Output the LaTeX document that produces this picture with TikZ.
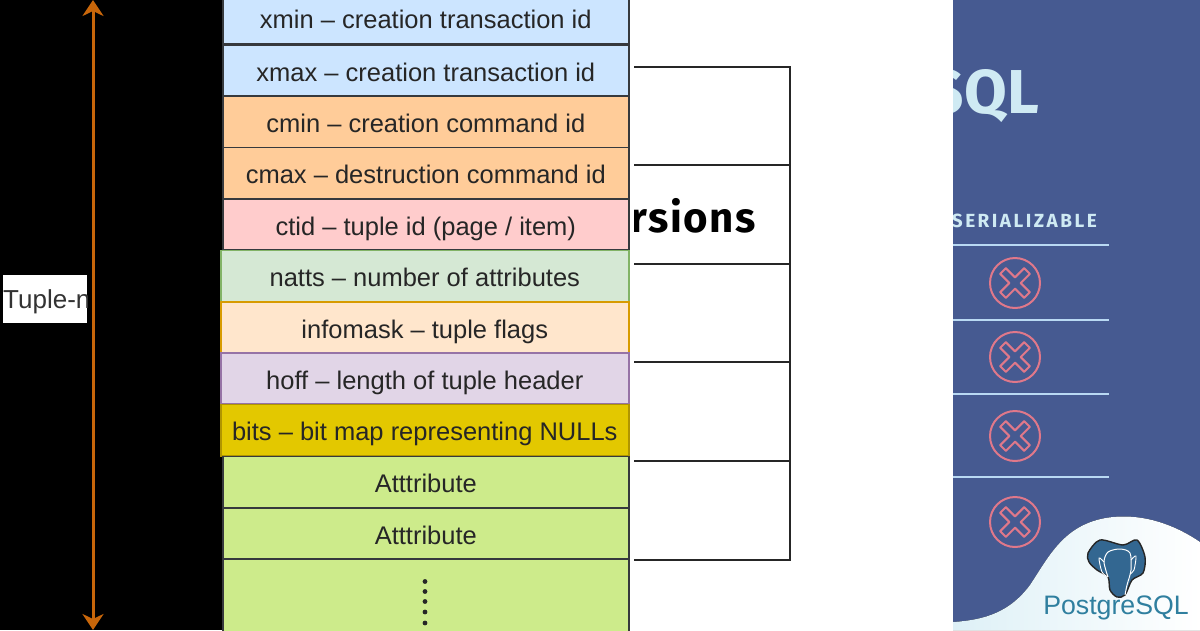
\documentclass[tikz,border=0pt]{standalone}
\usepackage{fontspec}
\setmainfont{Liberation Sans}
\newfontfamily\headfont[LetterSpace=4]{Fira Sans}
\newfontfamily\capsfont[LetterSpace=13]{Fira Sans}
\newfontfamily\titlefont{Fira Sans}
\usetikzlibrary{arrows.meta}
\definecolor{panelblue}{HTML}{465A91}
\definecolor{paleblue}{HTML}{CFEAF3}
\definecolor{ruleblue}{HTML}{B9D9F3}
\definecolor{crossred}{HTML}{E0788A}
\definecolor{spanorange}{HTML}{C8660A}
\definecolor{elephant}{HTML}{336791}
\definecolor{logotext}{HTML}{2F7F9F}
\tikzset{
  rowbox/.style={draw=#1, line width=1.6pt, minimum height=51.4pt, inner sep=0pt,
    anchor=west, font=\fontsize{25.5}{28}\selectfont, text=black!85,
    text height=22pt, text depth=1pt},
  cellrule/.style={line width=1.8pt, black!85},
  tablerule/.style={line width=2.4pt, ruleblue},
  crossring/.style={line width=2pt, crossred, line join=round},
}
\newcommand{\crossicon}[2]{%
  \draw[crossring] (#1,#2) circle (25);
  \draw[crossring, rotate around={45:(#1,#2)}]
    (#1-4,#2-17) -- (#1+4,#2-17) -- (#1+4,#2-4) -- (#1+17,#2-4) -- (#1+17,#2+4)
    -- (#1+4,#2+4) -- (#1+4,#2+17) -- (#1-4,#2+17) -- (#1-4,#2+4) -- (#1-17,#2+4)
    -- (#1-17,#2-4) -- (#1-4,#2-4) -- cycle;
}

\begin{document}
\begin{tikzpicture}[x=1pt, y=-1pt]
  \clip (0,0) rectangle (1200,630);
  \fill[white] (0,0) rectangle (1200,630);

  % left black band
  \fill[black] (0,0) rectangle (222,630);
  \fill[white] (3,275) rectangle (87,323);
  \begin{scope}
    \clip (3,275) rectangle (87,323);
    \node[anchor=west, inner sep=0pt, font=\fontsize{26}{28}\selectfont, text=black!80]
      (tuplelabel) at (3,302) {Tuple-n};
  \end{scope}
  \coordinate (spantop) at (93,0);
  \coordinate (spanbot) at (93,630);
  \draw[{Stealth[length=16pt,width=21pt,inset=5pt]}-{Stealth[length=16pt,width=21pt,inset=5pt]},
    line width=3pt, spanorange] (spantop) -- (spanbot);

  % tuple rows
  \foreach \i/\y/\xl/\rowwd/\fc/\dc/\txt in {
      1/18/222/406/{CCE5FF}/{36393D}/{xmin -- creation transaction id},
      2/70.5/222/406/{CCE5FF}/{36393D}/{xmax -- creation transaction id},
      3/122/222/406/{FFCC99}/{36393D}/{cmin -- creation command id},
      4/173/222/406/{FFCC99}/{36393D}/{cmax -- destruction command id},
      5/224.5/222/406/{FFCCCC}/{36393D}/{ctid -- tuple id (page / item)},
      6/276/220/408/{D5E8D4}/{82B366}/{natts -- number of attributes},
      7/327.5/220/408/{FFE6CC}/{D79B00}/{infomask -- tuple flags},
      8/378.5/220/408/{E1D5E7}/{9673A6}/{hoff -- length of tuple header},
      9/430/220/408/{E3C800}/{B09500}/{bits -- bit map representing NULLs},
      10/482/222/406/{CDEB8B}/{36393D}/{Atttribute},
      11/533.5/222/406/{CDEB8B}/{36393D}/{Atttribute}}{
    \definecolor{rowfill}{HTML}{\fc}
    \definecolor{rowdraw}{HTML}{\dc}
    \node[rowbox=rowdraw, fill=rowfill, minimum width=\rowwd pt] (row\i) at (\xl,\y) {\txt};
  }
  \definecolor{rowfill}{HTML}{CDEB8B}
  \definecolor{rowdraw}{HTML}{36393D}
  \node[rowbox=rowdraw, fill=rowfill, minimum width=406pt, minimum height=90pt] (row12) at (222,604) {};
  \foreach \y in {581.5,591.5,601.5,612,623}
    \fill[black!85] (425,\y) circle (2.4);

  % middle table
  \foreach \y in {67,165,264,362,461,560}
    \draw[cellrule] (634,\y) -- (790,\y);
  \draw[cellrule] (790,66) -- (790,561);
  \begin{scope}
    \clip (634,180) rectangle (790,250);
    \node[anchor=base west, inner sep=0pt, font=\fontsize{42}{44}\selectfont\headfont\bfseries, text=black]
      (versions) at (630,232) {rsions};
  \end{scope}

  % right panel
  \fill[panelblue] (953,0) rectangle (1200,630);
  \begin{scope}
    \clip (953,0) rectangle (1200,630);
    \node[anchor=base east, inner sep=0pt, font=\fontsize{62}{64}\selectfont\titlefont\bfseries, text=paleblue]
      (sqltitle) at (1039,113) {SQL};
    \node[anchor=base east, inner sep=0pt, font=\fontsize{19}{22}\selectfont\capsfont\bfseries, text=paleblue]
      (serial) at (1097,227) {SERIALIZABLE};
  \end{scope}
  \foreach \y in {245,320,394,477}
    \draw[tablerule] (953,\y) -- (1109,\y);
  \crossicon{1015}{283}
  \crossicon{1015}{357}
  \crossicon{1015}{436}
  \crossicon{1015}{522}

  % logo corner
  \fill[left color=paleblue!70, right color=white] (953,622)
    .. controls (985,620) and (1010,612) .. (1030,585)
    .. controls (1050,555) and (1065,522) .. (1113,517)
    .. controls (1145,514) and (1175,525) .. (1200,542)
    -- (1200,630) -- (953,630) -- cycle;
  \draw[fill=elephant, line width=1.4pt, draw=black!85] plot[smooth cycle] coordinates
    {(1088,553) (1100,540) (1123,545) (1137,540) (1145,557) (1143,573) (1132,580)
     (1125,595) (1117,597) (1110,590) (1108,577) (1097,570) (1089,562)};
  \draw[white, line width=1pt] plot[smooth] coordinates {(1108,577) (1104,562) (1108,552) (1120,549) (1130,553) (1131,570) (1127,585) (1125,595)};
  \draw[white, line width=0.9pt] plot[smooth] coordinates {(1104,562) (1099,558) (1102,572) (1108,577)};
  \draw[white, line width=0.9pt] plot[smooth] coordinates {(1131,560) (1136,556) (1134,570) (1130,574)};
  \node[anchor=base, inner sep=0pt, font=\fontsize{26.7}{28}\selectfont, text=logotext]
    (logoname) at (1116,614) {PostgreSQL};
\end{tikzpicture}
\end{document}
